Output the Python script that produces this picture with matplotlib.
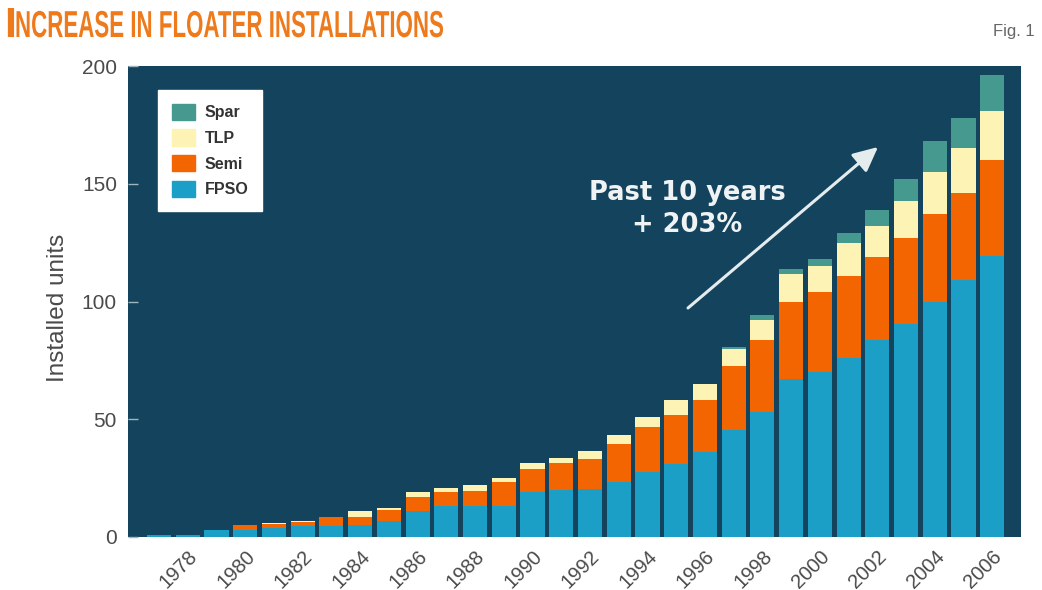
import numpy as np
from matplotlib import pyplot as plt
from matplotlib.patches import Patch
from matplotlib.patheffects import AbstractPathEffect
from matplotlib.transforms import Affine2D

W, H = 1042, 590

years = np.arange(1977, 2007)
fpso = [1, 1, 3, 3, 4, 4.5, 4.5, 5, 7, 11, 13, 13, 13, 19, 20, 20.5, 23.5, 27.5, 31, 36,
        45.5, 53, 67, 70, 76, 83.5, 90.5, 100, 109, 119.5]
semi = [0, 0, 0, 2, 1.5, 2, 4, 3.5, 4.5, 6, 6, 6.5, 10.5, 10, 11.5, 12.5, 16, 19, 21, 22,
        27, 30.5, 33, 34, 35, 35.5, 36.5, 37, 37, 40.5]
tlp = [0, 0, 0, 0, 0.5, 0.5, 0, 2.5, 1, 2, 2, 2.5, 1.5, 2.5, 2, 3.5, 4, 4.5, 6, 7,
       7.5, 8.5, 11.5, 11, 14, 13, 15.5, 18, 19, 21]
spar = [0, 0, 0, 0, 0, 0, 0, 0, 0, 0, 0, 0, 0, 0, 0, 0, 0, 0, 0, 0,
        0.5, 2.3, 2.5, 3, 4, 7, 9.5, 13, 13, 15]
xtick_years = list(range(1978, 2007, 2))
ytick_vals = [0, 50, 100, 150, 200]

c_bg = '#14435e'
c_fpso = '#1b9fc6'
c_semi = '#f26500'
c_tlp = '#fdf3b4'
c_spar = '#45998f'
c_text = '#4a4a4a'
c_title = '#ee7a1c'
sans = 'Liberation Sans'


# the title font is very condensed, no installed family is that narrow
class SqueezeX(AbstractPathEffect):
    def __init__(self, x0, factor):
        super().__init__()
        self.squeeze = Affine2D().translate(-x0, 0).scale(factor, 1).translate(x0, 0)

    def draw_path(self, renderer, gc, tpath, affine, rgbFace=None):
        renderer.draw_path(gc, tpath, affine + self.squeeze, rgbFace)


fig = plt.figure(figsize=(W / 100, H / 100), dpi=100)
ax = fig.add_axes([128 / W, 1 - 537 / H, 893 / W, 471 / H], facecolor=c_bg)

fpso = np.array(fpso)
semi = np.array(semi)
tlp = np.array(tlp)
spar = np.array(spar)
bw = 0.84
ax.bar(years, fpso, bw, color=c_fpso)
ax.bar(years, semi, bw, bottom=fpso, color=c_semi)
ax.bar(years, tlp, bw, bottom=fpso + semi, color=c_tlp)
ax.bar(years, spar, bw, bottom=fpso + semi + tlp, color=c_spar)

ax.set_xlim(1975.92, 2007.0)
ax.set_ylim(0, 200)
ax.set_yticks(ytick_vals)
ax.set_xticks(xtick_years)
ax.tick_params(axis='y', direction='in', length=7, width=1, color='#9fb5c0',
               labelsize=15, labelcolor=c_text, pad=8)
ax.tick_params(axis='x', length=0, labelsize=14.5, labelcolor=c_text, pad=7)
plt.setp(ax.get_xticklabels(), rotation=45, ha='right', rotation_mode='anchor', family=sans)
plt.setp(ax.get_yticklabels(), family=sans)
for s in ax.spines.values():
    s.set_visible(False)
ax.set_ylabel('Installed units', fontsize=17.5, color=c_text, family=sans)
ax.yaxis.set_label_coords(-59 / 893, (537 - 308) / 471)

handles = [Patch(color=c_spar, label='Spar'), Patch(color=c_tlp, label='TLP'),
           Patch(color=c_semi, label='Semi'), Patch(color=c_fpso, label='FPSO')]
leg = ax.legend(handles=handles, loc='upper left', bbox_to_anchor=(30 / 893, 1 - 24 / 471),
                borderaxespad=0, fancybox=False, framealpha=1, edgecolor='white',
                facecolor='white', handlelength=1.44, handleheight=1.19, labelspacing=0.58,
                handletextpad=0.63, borderpad=0.85,
                prop={'family': sans, 'weight': 'bold', 'size': 11.5})
for t in leg.get_texts():
    t.set_color('#333333')

ax.text((687 - 128) / 893, (537 - 209) / 471, 'Past 10 years\n+ 203%', transform=ax.transAxes,
        color='#f0f3f4', fontsize=18.5, fontweight='bold', family='DejaVu Sans',
        ha='center', va='center', linespacing=1.25)
ax.annotate('', xy=((878 - 128) / 893, (537 - 147) / 471),
            xytext=((688 - 128) / 893, (537 - 308) / 471),
            xycoords='axes fraction', textcoords='axes fraction',
            arrowprops=dict(arrowstyle='-|>,head_length=0.5,head_width=0.24', color='#e4ecee',
                            lw=2.2, mutation_scale=30, shrinkA=0, shrinkB=0))

fig.text(4 / W, 1 - 37 / H, 'I', color=c_title, fontsize=31, family=sans, weight='bold',
         ha='left', va='baseline')
fig.text(15 / W, 1 - 37 / H, 'NCREASE IN FLOATER INSTALLATIONS', color=c_title, fontsize=27,
         family=sans, weight='bold', ha='left', va='baseline', path_effects=[SqueezeX(15, 0.595)])
fig.text(1035 / W, 1 - 36 / H, 'Fig. 1', color='#666666', fontsize=12, family=sans,
         ha='right', va='baseline')

fig.savefig('out.png', dpi=100)
